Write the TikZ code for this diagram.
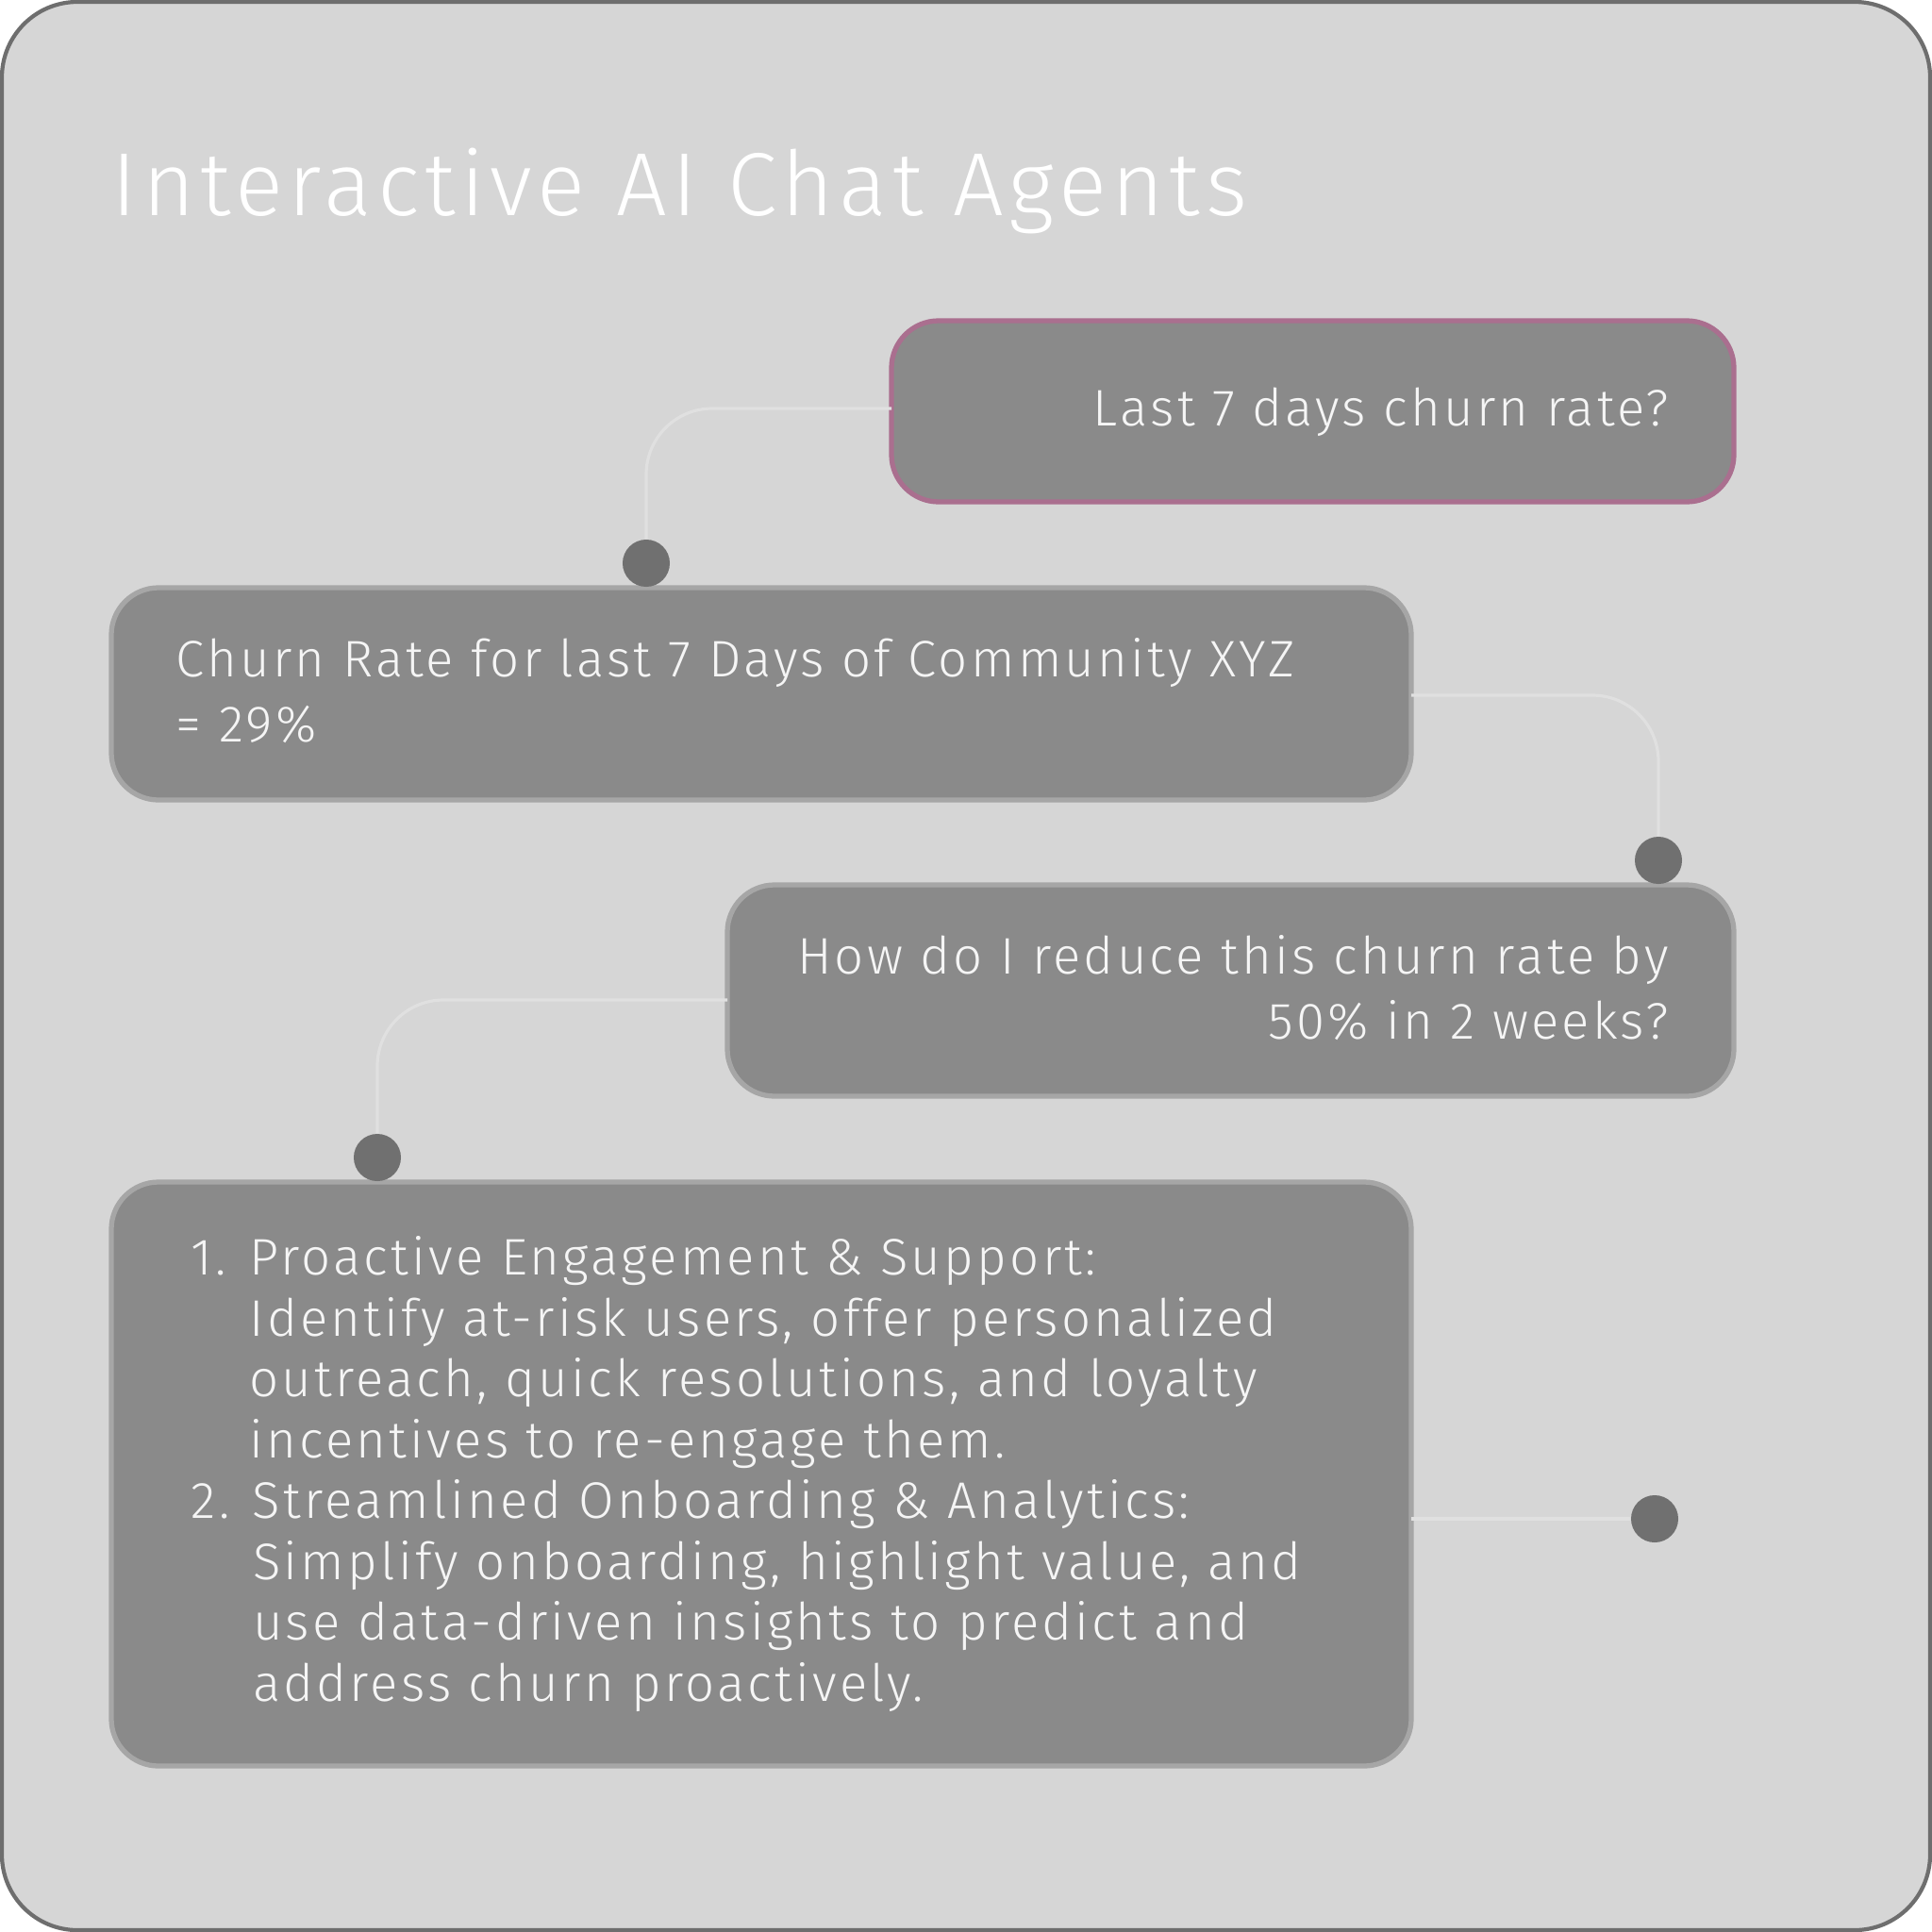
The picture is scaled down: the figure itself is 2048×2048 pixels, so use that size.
\documentclass[tikz,border=0pt]{standalone}
\usepackage{fontspec}
\setmainfont{Fira Sans Light}[LetterSpace=6]
\begin{document}
\begin{tikzpicture}[x=0.01cm,y=-0.01cm,
  box/.style={draw=black!35,line width=1.5pt,fill=black!46,rounded corners=0.5cm},
  conn/.style={draw=white!88!black,line width=0.9pt,rounded corners=0.7cm},
  dot/.style={circle,fill=black!56,minimum size=0.5cm,inner sep=0pt},
  txt/.style={text=white!96!black,font=\fontsize{15.5}{19.5}\selectfont,inner sep=0pt}]
\useasboundingbox (0,0) rectangle (2048,2048);
\draw[fill=black!16,draw=black!57,line width=1.2pt,rounded corners=0.8cm] (2,2) rectangle (2046,2046);
\node[anchor=base west,text=white,font=\fontsize{27}{32}\selectfont,inner sep=0pt] (title) at (118,228) {Interactive AI Chat Agents};
% boxes
\draw[box,draw=black!20!magenta!45!gray] (945,340) rectangle (1838,532);
\coordinate (b1l) at (945,433);
\node[txt,anchor=east] (t1) at (1770,437) {Last 7 days churn rate?};
\draw[box] (118,623) rectangle (1496,848);
\coordinate (b2r) at (1496,737);
\node[txt,anchor=north west,align=left] (t2) at (186,676) {Churn Rate for last 7 Days of Community XYZ\\= 29\%};
\draw[box] (771,938) rectangle (1838,1162);
\coordinate (b3l) at (771,1060);
\node[txt,anchor=north east,align=right] (t3) at (1770,991) {How do I reduce this churn rate by\\50\% in 2 weeks?};
\draw[box] (118,1253) rectangle (1496,1872);
\coordinate (b4r) at (1496,1610);
\node[txt,anchor=north west,align=left,font=\fontsize{15.5}{18.35}\selectfont] (t4) at (202,1310) {1. Proactive Engagement \& Support:\\
\phantom{1. }Identify at-risk users, offer personalized\\
\phantom{1. }outreach, quick resolutions, and loyalty\\
\phantom{1. }incentives to re-engage them.\\
2. Streamlined Onboarding \& Analytics:\\
\phantom{2. }Simplify onboarding, highlight value, and\\
\phantom{2. }use data-driven insights to predict and\\
\phantom{2. }address churn proactively.};
% dots
\node[dot] (d1) at (685,597) {};
\node[dot] (d2) at (1758,912) {};
\node[dot] (d3) at (400,1227) {};
\node[dot] (d4) at (1754,1610) {};
% connectors
\draw[conn] (b1l) -| (d1);
\draw[conn] (b2r) -| (d2);
\draw[conn] (b3l) -| (d3);
\draw[conn] (b4r) -- (d4);
\end{tikzpicture}
\end{document}
